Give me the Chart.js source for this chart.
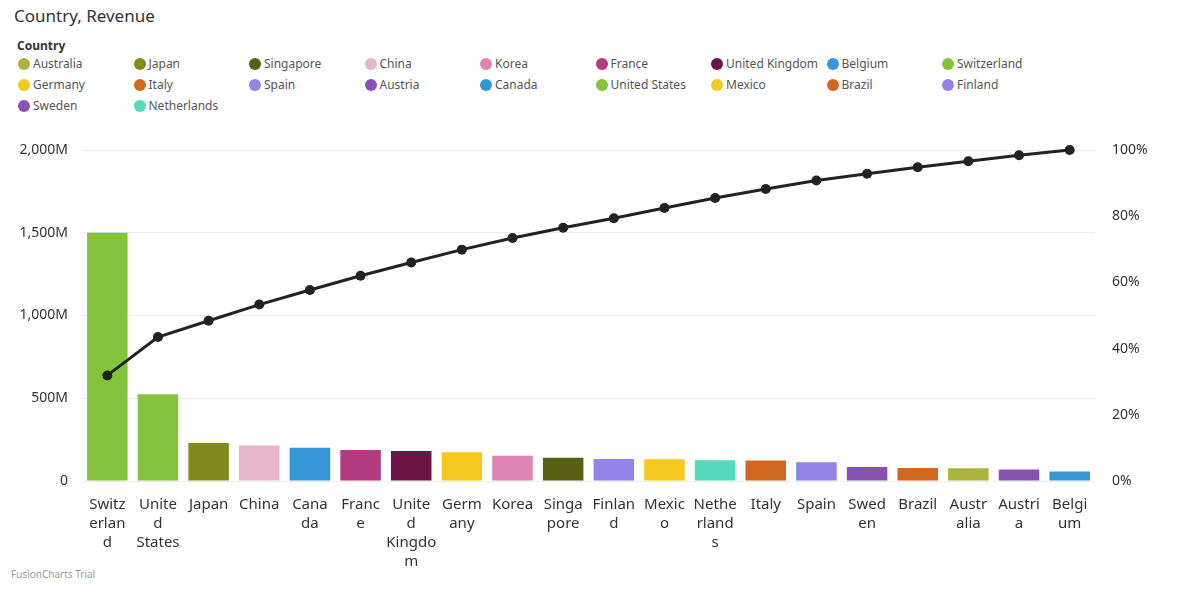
<!DOCTYPE html>
<html>
<head>
<meta charset="utf-8">
<script src="https://cdn.jsdelivr.net/npm/chart.js@4/dist/chart.umd.min.js"></script>
<style>
  html, body { margin: 0; padding: 0; background: #fff; }
  body { width: 1200px; height: 594px; position: relative; overflow: hidden; font-family: "Noto Sans", sans-serif; }
  #titulo { position: absolute; left: 14px; top: 4px; font-size: 17px; color: #333; }
  #leyendaTitulo { position: absolute; left: 17px; top: 37px; font-size: 12px; font-weight: bold; color: #333; }
  #leyenda { position: absolute; left: 18px; top: 55px; display: grid; grid-template-columns: repeat(9, 115.5px); row-gap: 4px; }
  .item { display: flex; align-items: center; font-size: 12px; color: #555; height: 17px; white-space: nowrap; }
  .punto { width: 12px; height: 12px; border-radius: 50%; margin-right: 3px; flex: none; }
  #marca { position: absolute; left: 11px; top: 567px; font-size: 10px; color: #999; }
  #grafica { position: absolute; left: 0; top: 0; }
</style>
</head>
<body>
<div id="titulo">Country, Revenue</div>
<div id="leyendaTitulo">Country</div>
<div id="leyenda"></div>
<div id="marca">FusionCharts Trial</div>
<canvas id="grafica" width="1200" height="594"></canvas>
<script>
const paises = ["Switzerland", "United States", "Japan", "China", "Canada", "France", "United Kingdom", "Germany", "Korea", "Singapore",
  "Finland", "Mexico", "Netherlands", "Italy", "Spain", "Sweden", "Brazil", "Australia", "Austria", "Belgium"];

const etiquetas = [["Switz", "erlan", "d"], ["Unite", "d", "States"], ["Japan"], ["China"], ["Cana", "da"], ["Franc", "e"],
  ["Unite", "d", "Kingdo", "m"], ["Germ", "any"], ["Korea"], ["Singa", "pore"], ["Finlan", "d"], ["Mexic", "o"],
  ["Nethe", "rland", "s"], ["Italy"], ["Spain"], ["Swed", "en"], ["Brazil"], ["Austr", "alia"], ["Austri", "a"], ["Belgi", "um"]];

// ingresos en millones
const ingresos = [1500, 524, 229, 215, 201, 187, 181, 173, 153, 141, 133, 132, 125, 124, 113, 84, 78, 77, 70, 58];

// porcentaje acumulado
const acumulado = [31.9, 43.5, 48.4, 53.3, 57.7, 62.0, 66.0, 69.9, 73.4, 76.5, 79.4, 82.5, 85.5, 88.2, 90.8, 92.8, 94.8, 96.6, 98.4, 100];

const ordenLeyenda = ["Australia", "Japan", "Singapore", "China", "Korea", "France", "United Kingdom", "Belgium", "Switzerland",
  "Germany", "Italy", "Spain", "Austria", "Canada", "United States", "Mexico", "Brazil", "Finland", "Sweden", "Netherlands"];

const colores = {
  "Australia": "#adb23a", "Japan": "#848a19", "Singapore": "#5a6012", "China": "#e8b5ca", "Korea": "#e085b2",
  "France": "#b23a80", "United Kingdom": "#701448", "Belgium": "#3498d8", "Switzerland": "#86c33c",
  "Germany": "#f4c91f", "Italy": "#d2691e", "Spain": "#9282ea", "Austria": "#8652b3", "Canada": "#3498d8",
  "United States": "#86c33c", "Mexico": "#f4c91f", "Brazil": "#d2691e", "Finland": "#9282ea", "Sweden": "#8652b3",
  "Netherlands": "#55d9bb"
};

document.getElementById("leyenda").innerHTML = ordenLeyenda
  .map(p => `<div class="item"><span class="punto" style="background:${colores[p]}"></span>${p}</div>`)
  .join("");

const fuente = { family: "'Noto Sans', sans-serif", size: 14 };

new Chart(document.getElementById("grafica"), {
  data: {
    labels: etiquetas,
    datasets: [{
      type: "line",
      data: acumulado,
      yAxisID: "yPct",
      borderColor: "#222",
      backgroundColor: "#222",
      borderWidth: 3,
      pointRadius: 5,
      pointHoverRadius: 5,
      pointBorderWidth: 0,
      tension: 0,
      clip: false,
      order: 0
    }, {
      type: "bar",
      data: ingresos,
      yAxisID: "y",
      backgroundColor: paises.map(p => colores[p]),
      categoryPercentage: 1,
      barPercentage: 0.8,
      order: 1
    }]
  },
  options: {
    responsive: false,
    animation: false,
    layout: { padding: { top: 150, left: 0, right: 0, bottom: 0 } },
    plugins: { legend: { display: false }, tooltip: { enabled: false } },
    scales: {
      x: {
        grid: { display: false },
        border: { display: false },
        ticks: { color: "#333", font: { ...fuente, size: 15, lineHeight: 1.27 }, maxRotation: 0, autoSkip: false, padding: 6 },
        afterFit: s => { s.height = 113; }
      },
      y: {
        position: "left",
        min: 0,
        max: 2000,
        ticks: {
          stepSize: 500,
          color: "#333",
          font: fuente,
          padding: 14,
          callback: v => v === 0 ? "0" : v.toLocaleString("en-US") + "M"
        },
        grid: { color: "#ececec", drawTicks: false },
        border: { display: false },
        afterFit: s => { s.width = 82; }
      },
      yPct: {
        position: "right",
        min: 0,
        max: 100,
        ticks: { stepSize: 20, color: "#333", font: fuente, padding: 17, callback: v => v + "%" },
        grid: { display: false, drawTicks: false },
        border: { display: false },
        afterFit: s => { s.width = 105; }
      }
    }
  }
});
</script>
</body>
</html>
